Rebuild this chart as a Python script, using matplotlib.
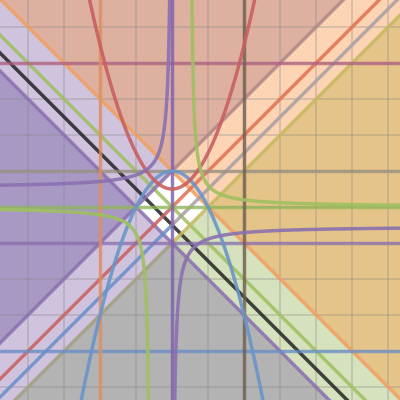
import numpy as np
import matplotlib
matplotlib.use("Agg")
import matplotlib.pyplot as plt

# line definitions: (slope, intercept, color left of x=0, color right of x=0)
diag_lines = [(-1, 1.0, "#f0a060", "#f0a060"), (-1, 0.0, "#9fc060", "#9fc060"),
              (-1, -0.5, "#222222", "#222222"), (-1, -1.0, "#8a70b0", "#8a70b0"),
              (1, 1.0, "#8a70b0", "#b08888"), (1, 0.0, "#c86060", "#e07050"),
              (1, -0.5, "#6a8ec8", "#a8a0a0"), (1, -1.0, "#a0a080", "#c8b860")]
hlines = [(4, "#b06080"), (1, "#999080"), (0, "#90b858"), (-1, "#8a70b0"), (-4, "#6a8ec8")]
vlines = [(0, "#8060b0"), (-2, "#e09060"), (2, "#706050")]
parab_a = [-1.0, 1.0]
parab_c = [1.0, 0.5]
parab_col = ["#6a96c8", "#c86060"]

xmin, xmax, ymin, ymax = -4.78, 6.33, -5.36, 5.75
fig = plt.figure(figsize=(4, 4), dpi=100)
ax = fig.add_axes([0, 0, 1, 1])
ax.set_xlim(xmin, xmax); ax.set_ylim(ymin, ymax)
ax.axis("off")

X, Y = np.meshgrid(np.linspace(xmin, xmax, 800), np.linspace(ymin, ymax, 800))
img = np.ones(X.shape + (3,))
def col(h): return np.array(matplotlib.colors.to_rgb(h))
regions = [
    ((Y > X + 1) & (Y > -X + 1), "#dfb0a0"),
    ((Y > -X + 1) & (Y < X + 1) & (Y > X - 1), "#fcd5b5"),
    ((Y < X - 1) & (Y > -X + 1), "#e5c48a"),
    ((Y < X - 1) & (Y < -X + 1) & (Y > -X - 1), "#d6e3bd"),
    ((Y < X - 1) & (Y < -X - 1), "#b4b4b4"),
    ((Y > X + 1) & (Y < -X + 1), "#cfc3df"),
    ((Y > X - 1) & (Y < -X - 1), "#cfc3df"),
    ((Y > X + 1) & (Y < -X - 1), "#a898c4"),
]
for m, c in regions:
    img[m] = col(c)
ax.imshow(img, extent=[xmin, xmax, ymin, ymax], origin="lower", aspect="auto", zorder=0)

for g in range(-5, 7):
    ax.axvline(g, color="#888888", alpha=0.35, lw=1.2, zorder=1)
    ax.axhline(g, color="#888888", alpha=0.35, lw=1.2, zorder=1)

lw = 2.5
xsl = np.linspace(xmin, 0, 300)
xsr = np.linspace(0, xmax, 300)
for m, b, cl, cr in diag_lines:
    ax.plot(xsl, m * xsl + b, color=cl, lw=lw, alpha=0.85, zorder=2)
    ax.plot(xsr, m * xsr + b, color=cr, lw=lw, alpha=0.85, zorder=2)
for y, c in hlines:
    ax.axhline(y, color=c, lw=lw, alpha=0.75, zorder=2)
for x, c in vlines:
    ax.axvline(x, color=c, lw=lw, alpha=0.8, zorder=2)
xs = np.linspace(xmin, xmax, 500)
for a, c0, c in zip(parab_a, parab_c, parab_col):
    ax.plot(xs, a * xs**2 + c0, color=c, lw=lw, alpha=0.9, zorder=3)

# purple reciprocal curves
xl = np.linspace(xmin, -0.005, 600); xr = np.linspace(0.005, xmax, 600)
ax.plot(xl, 0.53 - 0.36 / xl, color="#8a70b0", lw=lw, alpha=0.9, zorder=3)
ax.plot(xr, -0.53 - 0.36 / xr, color="#8a70b0", lw=lw, alpha=0.9, zorder=3)
# green reciprocal curves
xg1 = np.linspace(0.505, xmax, 600); xg2 = np.linspace(xmin, -0.605, 600)
ax.plot(xg1, 0.3 / (xg1 - 0.5), color="#9fc060", lw=lw, alpha=0.9, zorder=3)
ax.plot(xg2, 0.3 / (xg2 + 0.6), color="#9fc060", lw=lw, alpha=0.9, zorder=3)

fig.savefig("out.png", dpi=100)
